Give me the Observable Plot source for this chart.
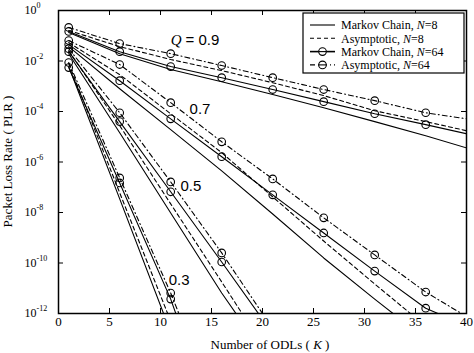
<!DOCTYPE html>
<html><head><meta charset="utf-8">
<script src="https://cdn.jsdelivr.net/npm/d3@7"></script>
<script src="https://cdn.jsdelivr.net/npm/@observablehq/plot@0.6"></script>
<style>
body{margin:0;background:#fff}
#chart{position:relative;width:474px;height:353px}
svg{font-family:"Liberation Serif","DejaVu Serif",serif}
</style>
</head><body><div id="chart"></div>
<script>
// ---- data: log10(PLR) ----
const markerK = [1, 6, 11, 16, 21, 26, 31, 36];
const xTicks = [0, 5, 10, 15, 20, 25, 30, 35, 40];
const yTickExp = [0, -2, -4, -6, -8, -10, -12];
const qValues = ["0.9", "0.7", "0.5", "0.3"];

// Q = 0.9
const q09K = [1, 6, 11, 16, 21, 26, 31, 36, 40];
const q09Markov8  = [-0.87, -1.71, -2.34, -2.82, -3.33, -3.85, -4.40, -4.96, -5.44];
const q09Asym8    = [-0.79, -1.43, -1.94, -2.38, -2.86, -3.37, -3.97, -4.40, -4.76];
const q09Markov64 = [-0.83, -1.63, -2.22, -2.66, -3.13, -3.61, -4.09, -4.52, -4.88];
const q09Asym64   = [-0.67, -1.31, -1.71, -2.18, -2.66, -3.13, -3.57, -4.05, -4.29];
// Q = 0.7
const q07KMarkov8  = [1, 6, 11, 16, 21, 26, 31, 32.8];
const q07Markov8   = [-1.43, -3.10, -4.72, -6.35, -8.06, -9.80, -11.43, -12];
const q07KAsym8    = [1, 6, 11, 16, 21, 26, 31, 34.5];
const q07Asym8     = [-1.27, -2.54, -4.09, -5.63, -7.38, -9.13, -10.83, -12];
const q07KMarkov64 = [1, 6, 11, 16, 21, 26, 31, 36, 37.2];
const q07Markov64  = [-1.35, -2.78, -4.29, -5.79, -7.30, -8.81, -10.32, -11.79, -12];
const q07KAsym64   = [1, 6, 11, 16, 21, 26, 31, 36, 39.5];
const q07Asym64    = [-1.19, -2.14, -3.65, -5.20, -6.67, -8.21, -9.68, -11.15, -12];
// Q = 0.5
const q05KMarkov8  = [1, 6, 11, 16, 17.4];
const q05Markov8   = [-1.71, -4.84, -8.02, -11.19, -12];
const q05KAsym8    = [1, 6, 11, 16, 18.0];
const q05Asym8     = [-1.59, -4.56, -7.66, -10.75, -12];
const q05KMarkov64 = [1, 6, 11, 16, 19.6];
const q05Markov64  = [-1.63, -4.40, -7.18, -9.96, -12];
const q05KAsym64   = [1, 6, 11, 16, 20.0];
const q05Asym64    = [-1.51, -4.05, -6.79, -9.60, -12];
// Q = 0.3
const q03KMarkov8  = [1, 6, 10.3];
const q03Markov8   = [-2.22, -7.46, -12];
const q03KAsym8    = [1, 6, 10.7];
const q03Asym8     = [-2.10, -7.22, -12];
const q03KMarkov64 = [1, 6, 11, 11.5];
const q03Markov64  = [-2.26, -6.83, -11.43, -12];
const q03KAsym64   = [1, 6, 11, 11.8];
const q03Asym64    = [-2.06, -6.63, -11.19, -12];

// Q annotation positions (data units)
const qLabelK   = [12.45, 12.85, 11.95, 10.8];
const qLabelExp = [-1.19, -3.89, -6.94, -10.67];

// ---- build table ----
const seriesDefs = [
  ["0.9","markov8",q09K,q09Markov8],["0.9","asym8",q09K,q09Asym8],
  ["0.9","markov64",q09K,q09Markov64],["0.9","asym64",q09K,q09Asym64],
  ["0.7","markov8",q07KMarkov8,q07Markov8],["0.7","asym8",q07KAsym8,q07Asym8],
  ["0.7","markov64",q07KMarkov64,q07Markov64],["0.7","asym64",q07KAsym64,q07Asym64],
  ["0.5","markov8",q05KMarkov8,q05Markov8],["0.5","asym8",q05KAsym8,q05Asym8],
  ["0.5","markov64",q05KMarkov64,q05Markov64],["0.5","asym64",q05KAsym64,q05Asym64],
  ["0.3","markov8",q03KMarkov8,q03Markov8],["0.3","asym8",q03KAsym8,q03Asym8],
  ["0.3","markov64",q03KMarkov64,q03Markov64],["0.3","asym64",q03KAsym64,q03Asym64]
];
const rows = seriesDefs.flatMap(([q, type, ks, es]) =>
  ks.map((K, i) => ({q, type, K, PLR: Math.pow(10, es[i])})));
const of = t => rows.filter(d => d.type === t);
const markers = rows.filter(d => (d.type === "markov64" || d.type === "asym64") && markerK.includes(d.K));
const qLabels = qValues.map((v, i) => ({text: v === "0.9" ? "= 0.9" : v, K: qLabelK[i], PLR: Math.pow(10, qLabelExp[i])}));
const yTicks = yTickExp.map(e => ({e, v: Math.pow(10, e)}));

const W = 474, H = 353, mL = 58, mR = 8, mT = 10, mB = 40;
const fw = W - mL - mR, fh = H - mT - mB;
const sw = 1.1;

const plot = Plot.plot({
  width: W, height: H,
  marginLeft: mL, marginRight: mR, marginTop: mT, marginBottom: mB,
  x: {domain: [0, 40], axis: null},
  y: {type: "log", domain: [1e-12, 1], axis: null},
  style: {fontFamily: "Liberation Serif, serif", background: "#fff", color: "#000"},
  marks: [
    // inward ticks
    Plot.tickX(xTicks.slice(1, -1), {x: d => d, insetTop: fh - 5, stroke: "#000", strokeWidth: 1}),
    Plot.tickX(xTicks.slice(1, -1), {x: d => d, insetBottom: fh - 5, stroke: "#000", strokeWidth: 1}),
    Plot.tickY(yTicks, {y: "v", insetRight: fw - 5, stroke: "#000", strokeWidth: 1}),
    Plot.tickY(yTicks, {y: "v", insetLeft: fw - 5, stroke: "#000", strokeWidth: 1}),
    // curves
    Plot.line(of("markov8"), {x: "K", y: "PLR", z: "q", stroke: "#000", strokeWidth: sw, clip: true}),
    Plot.line(of("asym8"), {x: "K", y: "PLR", z: "q", stroke: "#000", strokeWidth: sw, strokeDasharray: "4,3", clip: true}),
    Plot.line(of("markov64"), {x: "K", y: "PLR", z: "q", stroke: "#000", strokeWidth: sw, clip: true}),
    Plot.line(of("asym64"), {x: "K", y: "PLR", z: "q", stroke: "#000", strokeWidth: sw, strokeDasharray: "5,3,1,3", clip: true}),
    Plot.dot(markers, {x: "K", y: "PLR", r: 3.8, stroke: "#000", strokeWidth: 1.1, fill: "none"}),
    // x tick labels
    Plot.text(xTicks, {x: d => d, frameAnchor: "bottom", dy: 12, text: d => String(d), fontSize: 13}),
    // y tick labels 10^e
    Plot.text(yTicks, {y: "v", frameAnchor: "left", dx: -22, textAnchor: "end", text: () => "10", fontSize: 12}),
    Plot.text(yTicks, {y: "v", frameAnchor: "left", dx: -22, dy: -5, textAnchor: "start", text: d => String(d.e), fontSize: 8}),
    // Q labels
    Plot.text(qLabels, {x: "K", y: "PLR", text: "text", textAnchor: "start", fontSize: 15, fontFamily: "Liberation Sans, Arial, sans-serif"}),
    Plot.text(qLabels.slice(0, 1), {x: "K", y: "PLR", text: () => "Q", textAnchor: "end", dx: -4, fontSize: 15, fontStyle: "italic", fontFamily: "Liberation Serif, serif"}),
    Plot.frame({stroke: "#000", strokeWidth: 1.5})
  ]
});
document.getElementById("chart").appendChild(plot);

// axis titles and legend (non-data furniture)
const svg = d3.select(plot);
const xt = svg.append("text").attr("x", mL + fw / 2 + 8).attr("y", H - 4)
  .attr("text-anchor", "middle").attr("font-size", 13).attr("fill", "#000");
xt.append("tspan").text("Number of ODLs ( ");
xt.append("tspan").attr("font-style", "italic").text("K");
xt.append("tspan").text(" )");
svg.append("text").attr("transform", `translate(12,${mT + fh / 2}) rotate(-90)`)
  .attr("text-anchor", "middle").attr("font-size", 13).attr("fill", "#000")
  .text("Packet Loss Rate ( PLR )");

const legendItems = [
  {label: "Markov Chain, ", val: "=8", dash: null, marker: false},
  {label: "Asymptotic, ", val: "=8", dash: "4,3", marker: false},
  {label: "Markov Chain, ", val: "=64", dash: null, marker: true},
  {label: "Asymptotic, ", val: "=64", dash: "5,3,1,3", marker: true}
];
const lg = svg.append("g");
const lx = 303, ly = 13, lw = 161, lh = 60;
lg.append("rect").attr("x", lx).attr("y", ly).attr("width", lw).attr("height", lh)
  .attr("fill", "#fff").attr("stroke", "#000").attr("stroke-width", 1.2);
legendItems.forEach((it, i) => {
  const y = ly + 12 + i * 13.3;
  lg.append("line").attr("x1", lx + 7).attr("x2", lx + 32).attr("y1", y).attr("y2", y)
    .attr("stroke", "#000").attr("stroke-width", it.marker && !it.dash ? 1.6 : sw)
    .attr("stroke-dasharray", it.dash);
  if (it.marker) lg.append("circle").attr("cx", lx + 19.5).attr("cy", y).attr("r", 3.8)
    .attr("fill", "#fff").attr("stroke", "#000").attr("stroke-width", 1.1);
  if (it.marker) lg.append("line").attr("x1", lx + 15.7).attr("x2", lx + 23.3).attr("y1", y).attr("y2", y)
    .attr("stroke", "#000").attr("stroke-width", 1.1);
  const t = lg.append("text").attr("x", lx + 38).attr("y", y).attr("dy", "0.35em")
    .attr("text-anchor", "start").attr("font-size", 12).attr("fill", "#000");
  t.append("tspan").text(it.label);
  t.append("tspan").attr("font-style", "italic").text("N");
  t.append("tspan").text(it.val);
});
</script>
</body></html>
